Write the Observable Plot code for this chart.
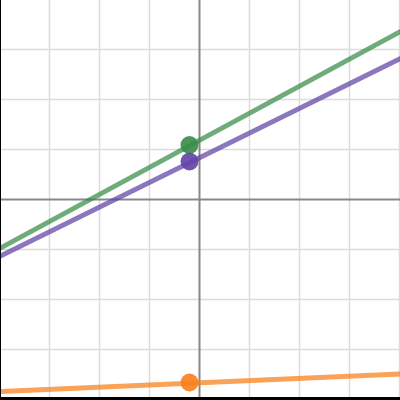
<!DOCTYPE html>
<html>
<head>
<meta charset="utf-8">
<script src="https://cdn.jsdelivr.net/npm/d3@7"></script>
<script src="https://cdn.jsdelivr.net/npm/@observablehq/plot@0.6"></script>
<style>
  html, body { margin: 0; padding: 0; background: #000; }
  #chart { width: 399px; height: 397px; margin-left: 1px; background: #fff; overflow: hidden; }
  #chart svg { display: block; background: #fff; }
</style>
</head>
<body>
<div id="chart"></div>
<script>
// Grid ticks
const xTicks = [-3, -2, -1, 1, 2, 3, 4];
const yTicks = [-3, -2, -1, 1, 2, 3];

// Line endpoints (x extents and y values for each series)
const lineX = [-4.1, 4.1];
const greenLineY = [-1.036, 3.404];
const purpleLineY = [-1.189, 2.859];
const orangeLineY = [-3.845, -3.485];

// Points
const pointSeries = ["s1", "s2", "s3"];
const pointX = [-0.2, -0.2, -0.2];
const pointY = [1.09, 0.76, -3.66];

const seriesNames = ["s1", "s2", "s3"];
const seriesColors = ["#388c46", "#6042a6", "#fa7e19"];

const lines = [
  ...lineX.map((x, i) => ({ series: "s1", x, y: greenLineY[i] })),
  ...lineX.map((x, i) => ({ series: "s2", x, y: purpleLineY[i] })),
  ...lineX.map((x, i) => ({ series: "s3", x, y: orangeLineY[i] }))
];
const points = pointSeries.map((s, i) => ({ series: s, x: pointX[i], y: pointY[i] }));

const chart = Plot.plot({
  width: 399,
  height: 397,
  margin: 0,
  x: { domain: [-3.96, 4.02], axis: null },
  y: { domain: [-3.96, 3.98], axis: null },
  color: { type: "ordinal", domain: seriesNames, range: seriesColors },
  marks: [
    Plot.gridX(xTicks, { stroke: "#dcdcdc", strokeOpacity: 1, strokeWidth: 1.5 }),
    Plot.gridY(yTicks, { stroke: "#dcdcdc", strokeOpacity: 1, strokeWidth: 1.5 }),
    Plot.ruleX([0], { stroke: "#888", strokeWidth: 2 }),
    Plot.ruleY([0], { stroke: "#888", strokeWidth: 2 }),
    Plot.line(lines, { x: "x", y: "y", z: "series", stroke: "series", strokeWidth: 5, strokeOpacity: 0.72, clip: true }),
    Plot.dot(points, { x: "x", y: "y", fill: "series", r: 9, fillOpacity: 0.9, stroke: "none" })
  ]
});
document.getElementById("chart").appendChild(chart);
</script>
</body>
</html>
